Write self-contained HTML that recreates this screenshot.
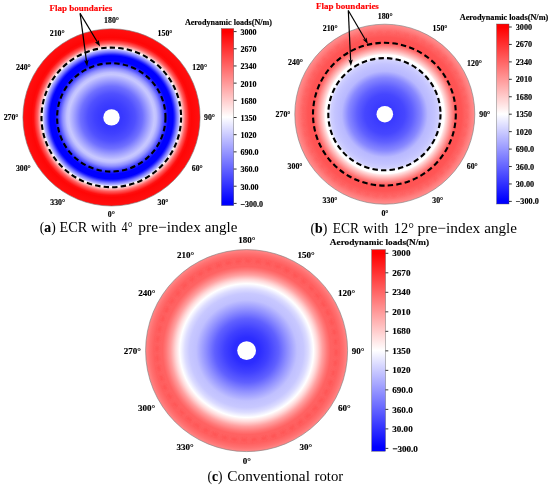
<!DOCTYPE html><html><head><meta charset="utf-8"><title>Aerodynamic loads</title>
<style>html,body{margin:0;padding:0;background:#fff}svg{display:block}text{font-family:"Liberation Serif",serif}.b{font-weight:bold;stroke:#000;stroke-width:0.15px}.r{stroke:#f00}</style></head><body>
<svg width="550" height="486" viewBox="0 0 550 486">
<defs>
<linearGradient id="cb" x1="0" y1="0" x2="0" y2="1"><stop offset="0" stop-color="#ff0000"/><stop offset="0.02" stop-color="#ff0000"/><stop offset="0.5" stop-color="#ffffff"/><stop offset="0.98" stop-color="#0000ff"/><stop offset="1" stop-color="#0000ff"/></linearGradient>
<radialGradient id="g1" cx="0.5" cy="0.5" r="0.5"><stop offset="0.0000" stop-color="#3838ff"/><stop offset="0.1208" stop-color="#3838ff"/><stop offset="0.1862" stop-color="#4040ff"/><stop offset="0.2686" stop-color="#5050ff"/><stop offset="0.3510" stop-color="#7070ff"/><stop offset="0.4323" stop-color="#a8a8ff"/><stop offset="0.4819" stop-color="#c8c8ff"/><stop offset="0.5068" stop-color="#c0c0ff"/><stop offset="0.5497" stop-color="#9090ff"/><stop offset="0.5971" stop-color="#4040ff"/><stop offset="0.6219" stop-color="#1818ff"/><stop offset="0.6400" stop-color="#0000ff"/><stop offset="0.6941" stop-color="#0000ff"/><stop offset="0.7099" stop-color="#2020ff"/><stop offset="0.7359" stop-color="#7070ff"/><stop offset="0.7630" stop-color="#b8b8ff"/><stop offset="0.7810" stop-color="#ffffff"/><stop offset="0.8036" stop-color="#ffc0c0"/><stop offset="0.8352" stop-color="#ff6060"/><stop offset="0.8781" stop-color="#ff1010"/><stop offset="0.9029" stop-color="#ff0606"/><stop offset="1.0000" stop-color="#ff1010"/></radialGradient>
<radialGradient id="g2" cx="0.5" cy="0.5" r="0.5"><stop offset="0.0000" stop-color="#3a3aff"/><stop offset="0.1000" stop-color="#3a3aff"/><stop offset="0.2222" stop-color="#4646ff"/><stop offset="0.3111" stop-color="#6060ff"/><stop offset="0.4056" stop-color="#8888ff"/><stop offset="0.4778" stop-color="#b8b8ff"/><stop offset="0.5556" stop-color="#c4c4ff"/><stop offset="0.6000" stop-color="#d0d0ff"/><stop offset="0.6167" stop-color="#e8e8ff"/><stop offset="0.6389" stop-color="#ffffff"/><stop offset="0.6611" stop-color="#ffffff"/><stop offset="0.6778" stop-color="#ffe0e0"/><stop offset="0.7144" stop-color="#ffb0b0"/><stop offset="0.7667" stop-color="#ff7070"/><stop offset="0.8000" stop-color="#ff5252"/><stop offset="0.8556" stop-color="#ff5555"/><stop offset="0.9333" stop-color="#ff7070"/><stop offset="1.0000" stop-color="#ff9090"/></radialGradient>
<radialGradient id="g3" cx="0.5" cy="0.5" r="0.5"><stop offset="0.0000" stop-color="#2c2cff"/><stop offset="0.1287" stop-color="#2c2cff"/><stop offset="0.2178" stop-color="#4040ff"/><stop offset="0.3168" stop-color="#6060ff"/><stop offset="0.4059" stop-color="#9090ff"/><stop offset="0.5000" stop-color="#c0c0ff"/><stop offset="0.5644" stop-color="#c8c8ff"/><stop offset="0.6109" stop-color="#dcdcff"/><stop offset="0.6624" stop-color="#ffffff"/><stop offset="0.7040" stop-color="#ffd8d8"/><stop offset="0.7515" stop-color="#ffa0a0"/><stop offset="0.7980" stop-color="#ff7878"/><stop offset="0.8317" stop-color="#ff6262"/><stop offset="0.9208" stop-color="#ff6060"/><stop offset="0.9604" stop-color="#ff7070"/><stop offset="1.0000" stop-color="#ff8888"/></radialGradient>
<marker id="ah" markerWidth="10" markerHeight="8" refX="6.5" refY="2.2" orient="auto" markerUnits="userSpaceOnUse"><path d="M0,0 L6.5,2.2 L0,4.4 L1.2,2.2 Z" fill="#000"/></marker>
<filter id="bl" x="-5%" y="-5%" width="110%" height="110%"><feGaussianBlur stdDeviation="0.9"/></filter>
</defs>
<rect width="550" height="486" fill="#fff"/>
<circle cx="111.5" cy="117.4" r="88.6" fill="url(#g1)" stroke="#7a7a7a" stroke-width="0.6"/>
<circle cx="111.5" cy="117.4" r="8.2" fill="#fff"/>
<circle cx="111.3" cy="117.4" r="69.8" fill="none" stroke="#000" stroke-width="2.1" stroke-dasharray="5.4 3.2"/>
<circle cx="111.3" cy="117.4" r="54.2" fill="none" stroke="#000" stroke-width="2.1" stroke-dasharray="5.4 3.2"/>
<text class="b" x="111.5" y="23.07" font-size="7.8" text-anchor="middle">180°</text>
<text class="b" x="57.2" y="35.67" font-size="7.8" text-anchor="middle">210°</text>
<text class="b" x="23.3" y="69.87" font-size="7.8" text-anchor="middle">240°</text>
<text class="b" x="11.1" y="120.07" font-size="7.8" text-anchor="middle">270°</text>
<text class="b" x="23.3" y="170.97" font-size="7.8" text-anchor="middle">300°</text>
<text class="b" x="57.7" y="204.97" font-size="7.8" text-anchor="middle">330°</text>
<text class="b" x="111.3" y="216.97" font-size="7.8" text-anchor="middle">0°</text>
<text class="b" x="163" y="204.97" font-size="7.8" text-anchor="middle">30°</text>
<text class="b" x="197.2" y="170.87" font-size="7.8" text-anchor="middle">60°</text>
<text class="b" x="209.5" y="120.17" font-size="7.8" text-anchor="middle">90°</text>
<text class="b" x="199.7" y="69.57" font-size="7.8" text-anchor="middle">120°</text>
<text class="b" x="165" y="35.67" font-size="7.8" text-anchor="middle">150°</text>
<rect x="221.4" y="28.6" width="12.4" height="177.00" fill="url(#cb)" stroke="#555" stroke-width="0.4"/>
<line x1="233.8" y1="31.60" x2="236.60000000000002" y2="31.60" stroke="#000" stroke-width="0.8"/>
<text class="b" x="240.5" y="35.04" font-size="8.0">3000</text>
<line x1="233.8" y1="48.78" x2="236.60000000000002" y2="48.78" stroke="#000" stroke-width="0.8"/>
<text class="b" x="240.5" y="52.22" font-size="8.0">2670</text>
<line x1="233.8" y1="65.96" x2="236.60000000000002" y2="65.96" stroke="#000" stroke-width="0.8"/>
<text class="b" x="240.5" y="69.40" font-size="8.0">2340</text>
<line x1="233.8" y1="83.14" x2="236.60000000000002" y2="83.14" stroke="#000" stroke-width="0.8"/>
<text class="b" x="240.5" y="86.58" font-size="8.0">2010</text>
<line x1="233.8" y1="100.32" x2="236.60000000000002" y2="100.32" stroke="#000" stroke-width="0.8"/>
<text class="b" x="240.5" y="103.76" font-size="8.0">1680</text>
<line x1="233.8" y1="117.50" x2="236.60000000000002" y2="117.50" stroke="#000" stroke-width="0.8"/>
<text class="b" x="240.5" y="120.94" font-size="8.0">1350</text>
<line x1="233.8" y1="134.68" x2="236.60000000000002" y2="134.68" stroke="#000" stroke-width="0.8"/>
<text class="b" x="240.5" y="138.12" font-size="8.0">1020</text>
<line x1="233.8" y1="151.86" x2="236.60000000000002" y2="151.86" stroke="#000" stroke-width="0.8"/>
<text class="b" x="240.5" y="155.30" font-size="8.0">690.0</text>
<line x1="233.8" y1="169.04" x2="236.60000000000002" y2="169.04" stroke="#000" stroke-width="0.8"/>
<text class="b" x="240.5" y="172.48" font-size="8.0">360.0</text>
<line x1="233.8" y1="186.22" x2="236.60000000000002" y2="186.22" stroke="#000" stroke-width="0.8"/>
<text class="b" x="240.5" y="189.66" font-size="8.0">30.00</text>
<line x1="233.8" y1="203.40" x2="236.60000000000002" y2="203.40" stroke="#000" stroke-width="0.8"/>
<text class="b" x="240.5" y="206.84" font-size="8.0">−300.0</text>
<text class="b" x="228.5" y="25.24" font-size="8.15" text-anchor="middle">Aerodynamic loads(N/m)</text>
<circle cx="384.8" cy="114.2" r="90" fill="url(#g2)" stroke="#7a7a7a" stroke-width="0.6"/>
<circle cx="384.8" cy="114.2" r="8.3" fill="#fff"/>
<circle cx="384.40000000000003" cy="114.2" r="71.4" fill="none" stroke="#000" stroke-width="2.1" stroke-dasharray="5.4 3.2"/>
<circle cx="384.40000000000003" cy="114.2" r="56.1" fill="none" stroke="#000" stroke-width="2.1" stroke-dasharray="5.4 3.2"/>
<text class="b" x="385.2" y="18.57" font-size="7.8" text-anchor="middle">180°</text>
<text class="b" x="330.2" y="30.67" font-size="7.8" text-anchor="middle">210°</text>
<text class="b" x="295.5" y="65.27" font-size="7.8" text-anchor="middle">240°</text>
<text class="b" x="283" y="116.97" font-size="7.8" text-anchor="middle">270°</text>
<text class="b" x="295" y="169.07" font-size="7.8" text-anchor="middle">300°</text>
<text class="b" x="330" y="203.47" font-size="7.8" text-anchor="middle">330°</text>
<text class="b" x="384.9" y="215.57" font-size="7.8" text-anchor="middle">0°</text>
<text class="b" x="437.7" y="203.47" font-size="7.8" text-anchor="middle">30°</text>
<text class="b" x="472.2" y="169.07" font-size="7.8" text-anchor="middle">60°</text>
<text class="b" x="484.7" y="116.87" font-size="7.8" text-anchor="middle">90°</text>
<text class="b" x="474.5" y="65.57" font-size="7.8" text-anchor="middle">120°</text>
<text class="b" x="440" y="30.67" font-size="7.8" text-anchor="middle">150°</text>
<rect x="496.6" y="24" width="12.4" height="180.00" fill="url(#cb)" stroke="#555" stroke-width="0.4"/>
<line x1="509.0" y1="27.00" x2="511.8" y2="27.00" stroke="#000" stroke-width="0.8"/>
<text class="b" x="515.7" y="30.01" font-size="8.2">3000</text>
<line x1="509.0" y1="44.44" x2="511.8" y2="44.44" stroke="#000" stroke-width="0.8"/>
<text class="b" x="515.7" y="47.45" font-size="8.2">2670</text>
<line x1="509.0" y1="61.88" x2="511.8" y2="61.88" stroke="#000" stroke-width="0.8"/>
<text class="b" x="515.7" y="64.89" font-size="8.2">2340</text>
<line x1="509.0" y1="79.32" x2="511.8" y2="79.32" stroke="#000" stroke-width="0.8"/>
<text class="b" x="515.7" y="82.33" font-size="8.2">2010</text>
<line x1="509.0" y1="96.76" x2="511.8" y2="96.76" stroke="#000" stroke-width="0.8"/>
<text class="b" x="515.7" y="99.77" font-size="8.2">1680</text>
<line x1="509.0" y1="114.20" x2="511.8" y2="114.20" stroke="#000" stroke-width="0.8"/>
<text class="b" x="515.7" y="117.21" font-size="8.2">1350</text>
<line x1="509.0" y1="131.64" x2="511.8" y2="131.64" stroke="#000" stroke-width="0.8"/>
<text class="b" x="515.7" y="134.65" font-size="8.2">1020</text>
<line x1="509.0" y1="149.08" x2="511.8" y2="149.08" stroke="#000" stroke-width="0.8"/>
<text class="b" x="515.7" y="152.09" font-size="8.2">690.0</text>
<line x1="509.0" y1="166.52" x2="511.8" y2="166.52" stroke="#000" stroke-width="0.8"/>
<text class="b" x="515.7" y="169.53" font-size="8.2">360.0</text>
<line x1="509.0" y1="183.96" x2="511.8" y2="183.96" stroke="#000" stroke-width="0.8"/>
<text class="b" x="515.7" y="186.97" font-size="8.2">30.00</text>
<line x1="509.0" y1="201.40" x2="511.8" y2="201.40" stroke="#000" stroke-width="0.8"/>
<text class="b" x="515.7" y="204.41" font-size="8.2">−300.0</text>
<text class="b" x="504" y="20.48" font-size="8.25" text-anchor="middle">Aerodynamic loads(N/m)</text>
<circle cx="246.6" cy="350.6" r="101" fill="url(#g3)" stroke="#7a7a7a" stroke-width="0.6"/>
<circle cx="246.6" cy="350.6" r="9.4" fill="#fff"/>
<text class="b" x="246.8" y="243.47" font-size="9" text-anchor="middle">180°</text>
<text class="b" x="185.5" y="257.57" font-size="9" text-anchor="middle">210°</text>
<text class="b" x="146.9" y="295.67" font-size="9" text-anchor="middle">240°</text>
<text class="b" x="132.4" y="353.87" font-size="9" text-anchor="middle">270°</text>
<text class="b" x="146.5" y="411.37" font-size="9" text-anchor="middle">300°</text>
<text class="b" x="185" y="449.67" font-size="9" text-anchor="middle">330°</text>
<text class="b" x="246.9" y="463.67" font-size="9" text-anchor="middle">0°</text>
<text class="b" x="305.7" y="449.67" font-size="9" text-anchor="middle">30°</text>
<text class="b" x="344.3" y="411.37" font-size="9" text-anchor="middle">60°</text>
<text class="b" x="358" y="353.57" font-size="9" text-anchor="middle">90°</text>
<text class="b" x="346.5" y="296.27" font-size="9" text-anchor="middle">120°</text>
<text class="b" x="306" y="257.57" font-size="9" text-anchor="middle">150°</text>
<rect x="371.7" y="249.6" width="13.8" height="201.60" fill="url(#cb)" stroke="#555" stroke-width="0.4"/>
<line x1="385.5" y1="253.30" x2="388.3" y2="253.30" stroke="#000" stroke-width="0.8"/>
<text class="b" x="392.2" y="256.42" font-size="9.15">3000</text>
<line x1="385.5" y1="272.81" x2="388.3" y2="272.81" stroke="#000" stroke-width="0.8"/>
<text class="b" x="392.2" y="275.93" font-size="9.15">2670</text>
<line x1="385.5" y1="292.32" x2="388.3" y2="292.32" stroke="#000" stroke-width="0.8"/>
<text class="b" x="392.2" y="295.44" font-size="9.15">2340</text>
<line x1="385.5" y1="311.83" x2="388.3" y2="311.83" stroke="#000" stroke-width="0.8"/>
<text class="b" x="392.2" y="314.95" font-size="9.15">2010</text>
<line x1="385.5" y1="331.34" x2="388.3" y2="331.34" stroke="#000" stroke-width="0.8"/>
<text class="b" x="392.2" y="334.46" font-size="9.15">1680</text>
<line x1="385.5" y1="350.85" x2="388.3" y2="350.85" stroke="#000" stroke-width="0.8"/>
<text class="b" x="392.2" y="353.97" font-size="9.15">1350</text>
<line x1="385.5" y1="370.36" x2="388.3" y2="370.36" stroke="#000" stroke-width="0.8"/>
<text class="b" x="392.2" y="373.48" font-size="9.15">1020</text>
<line x1="385.5" y1="389.87" x2="388.3" y2="389.87" stroke="#000" stroke-width="0.8"/>
<text class="b" x="392.2" y="392.99" font-size="9.15">690.0</text>
<line x1="385.5" y1="409.38" x2="388.3" y2="409.38" stroke="#000" stroke-width="0.8"/>
<text class="b" x="392.2" y="412.50" font-size="9.15">360.0</text>
<line x1="385.5" y1="428.89" x2="388.3" y2="428.89" stroke="#000" stroke-width="0.8"/>
<text class="b" x="392.2" y="432.01" font-size="9.15">30.00</text>
<line x1="385.5" y1="448.40" x2="388.3" y2="448.40" stroke="#000" stroke-width="0.8"/>
<text class="b" x="392.2" y="451.52" font-size="9.15">−300.0</text>
<text class="b" x="379.5" y="245.07" font-size="9.25" text-anchor="middle">Aerodynamic loads(N/m)</text>
<circle cx="246.6" cy="350.6" r="89.5" fill="none" stroke="#ff4040" stroke-opacity="0.35" stroke-width="3" stroke-dasharray="5.5 4.5" filter="url(#bl)"/>
<circle cx="385" cy="114.2" r="82" fill="none" stroke="#ff4848" stroke-opacity="0.25" stroke-width="2.5" stroke-dasharray="5 4" filter="url(#bl)"/>
<text class="b r" x="80.9" y="11.40" font-size="9" fill="#ff0000" text-anchor="middle">Flap boundaries</text>
<line x1="80.1" y1="13.4" x2="97.37" y2="42.06" stroke="#000" stroke-width="1.2"/>
<polygon points="100.10,46.60 94.86,42.17 97.37,42.06 98.63,39.90" fill="#000"/>
<line x1="80.1" y1="13.4" x2="86.50" y2="61.35" stroke="#000" stroke-width="1.2"/>
<polygon points="87.20,66.60 84.16,60.45 86.50,61.35 88.52,59.87" fill="#000"/>
<text class="b r" x="347.5" y="8.70" font-size="9" fill="#ff0000" text-anchor="middle">Flap boundaries</text>
<line x1="348.3" y1="10.5" x2="365.23" y2="39.52" stroke="#000" stroke-width="1.2"/>
<polygon points="367.90,44.10 362.72,39.59 365.23,39.52 366.53,37.38" fill="#000"/>
<line x1="348.3" y1="10.5" x2="350.65" y2="60.71" stroke="#000" stroke-width="1.2"/>
<polygon points="350.90,66.00 348.40,59.61 350.65,60.71 352.79,59.40" fill="#000"/>
<text x="39.8" y="232.4" font-size="15" textLength="15.9" lengthAdjust="spacingAndGlyphs">(<tspan class="b">a</tspan>)</text>
<text x="59.5" y="232.4" font-size="15" textLength="27.7" lengthAdjust="spacingAndGlyphs">ECR</text>
<text x="91.1" y="232.4" font-size="15" textLength="25.1" lengthAdjust="spacingAndGlyphs">with</text>
<text x="121.6" y="232.4" font-size="15" textLength="11.0" lengthAdjust="spacingAndGlyphs">4°</text>
<text x="138.3" y="232.4" font-size="15" textLength="62.6" lengthAdjust="spacingAndGlyphs">pre−index</text>
<text x="204.8" y="232.4" font-size="15" textLength="32.6" lengthAdjust="spacingAndGlyphs">angle</text>
<text x="310.5" y="232.6" font-size="15" textLength="16.8" lengthAdjust="spacingAndGlyphs">(<tspan class="b">b</tspan>)</text>
<text x="332.7" y="232.6" font-size="15" textLength="26.2" lengthAdjust="spacingAndGlyphs">ECR</text>
<text x="363.3" y="232.6" font-size="15" textLength="25.1" lengthAdjust="spacingAndGlyphs">with</text>
<text x="393.8" y="232.6" font-size="15" textLength="20.1" lengthAdjust="spacingAndGlyphs">12°</text>
<text x="417.6" y="232.6" font-size="15" textLength="62.6" lengthAdjust="spacingAndGlyphs">pre−index</text>
<text x="484.2" y="232.6" font-size="15" textLength="32.7" lengthAdjust="spacingAndGlyphs">angle</text>
<text x="207.4" y="480.9" font-size="15" textLength="15.0" lengthAdjust="spacingAndGlyphs">(<tspan class="b">c</tspan>)</text>
<text x="227.3" y="480.9" font-size="15" textLength="82.6" lengthAdjust="spacingAndGlyphs">Conventional</text>
<text x="314.5" y="480.9" font-size="15" textLength="28.7" lengthAdjust="spacingAndGlyphs">rotor</text>
</svg></body></html>
